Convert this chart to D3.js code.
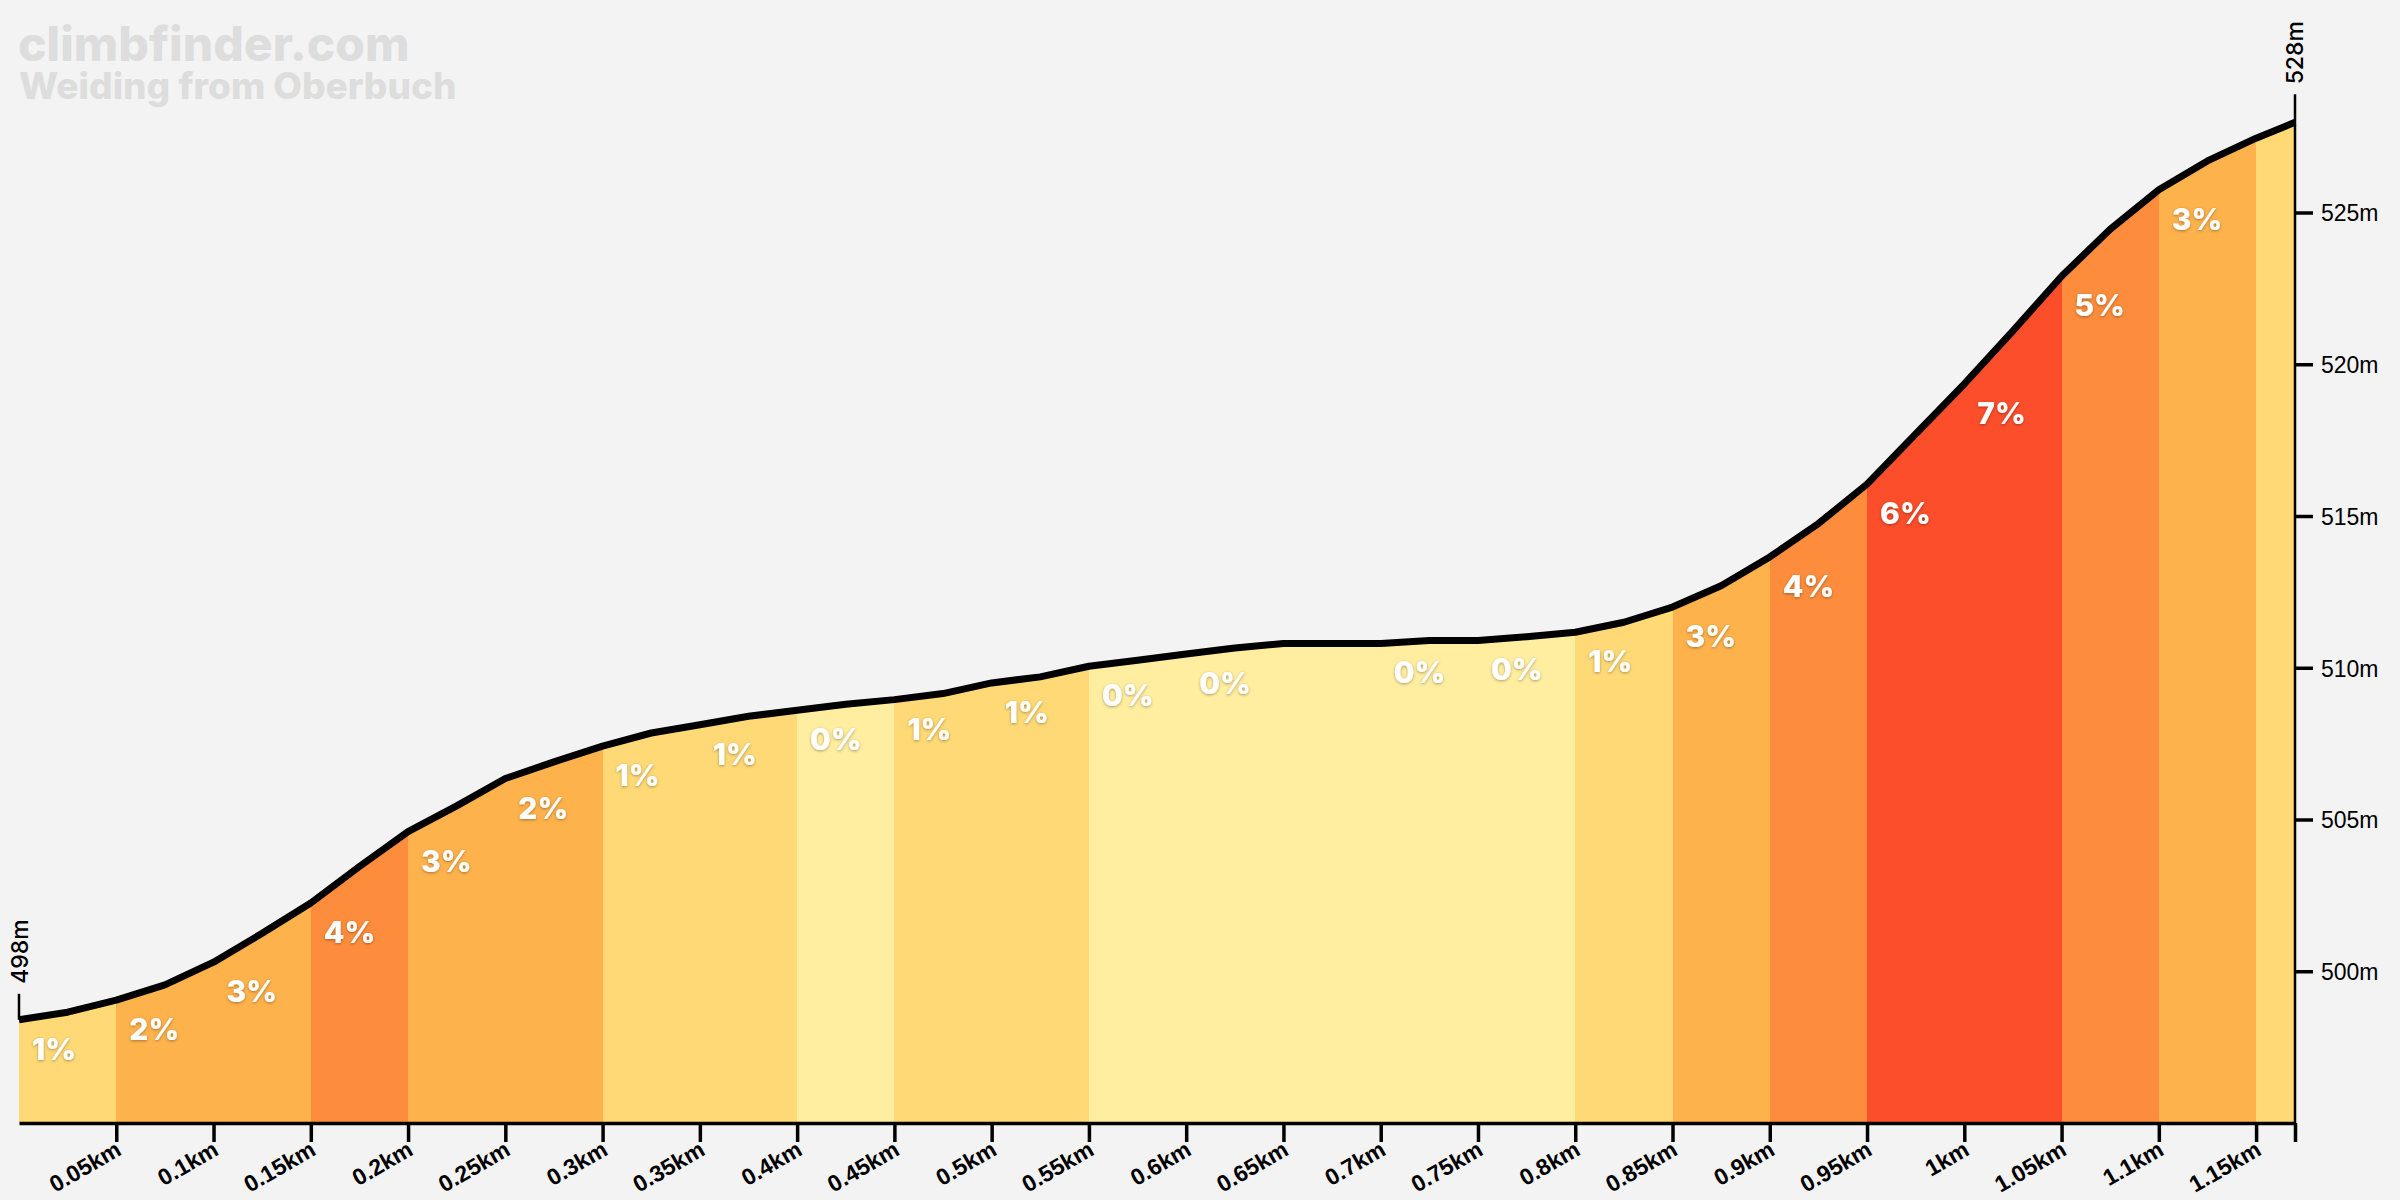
<!DOCTYPE html>
<html lang="en">
<head>
<meta charset="UTF-8">
<title>Weiding from Oberbuch</title>
<script src="https://d3js.org/d3.v7.min.js"></script>
<style>
    body {
        margin: 0;
        background: #f3f3f3;
    }

    svg {
        display: block;
        font-family: Inter, "Open Sans", sans-serif;
    }

    .title {
        fill: #dddddd;
        font-weight: 800;
    }

    .grade {
        fill: #ffffff;
        font-size: 30px;
        font-weight: 800;
    }

    .x-axis text {
        font-size: 23px;
        font-weight: 700;
        fill: #000;
    }

    .y-axis text, .marker {
        font-size: 23px;
        font-weight: 500;
        fill: #000;
    }
</style>
</head>
<body>
<div id="chart"></div>
<script>
// elevation profile
const distKm = [0, 0.025, 0.05, 0.075, 0.1, 0.125, 0.15, 0.175, 0.2, 0.225, 0.25, 0.275, 0.3, 0.325,
    0.35, 0.375, 0.4, 0.425, 0.45, 0.475, 0.5, 0.525, 0.55, 0.575, 0.6, 0.625, 0.65, 0.675, 0.7, 0.725,
    0.75, 0.775, 0.8, 0.825, 0.85, 0.875, 0.9, 0.925, 0.95, 0.975, 1.0, 1.025, 1.05, 1.075, 1.1, 1.125,
    1.15, 1.17];
const elevM = [498.4, 498.65, 499.05, 499.55, 500.3, 501.25, 502.25, 503.45, 504.6, 505.45, 506.35, 506.9,
    507.42, 507.85, 508.12, 508.4, 508.6, 508.8, 508.95, 509.15, 509.5, 509.7, 510.05, 510.25, 510.45,
    510.65, 510.8, 510.8, 510.8, 510.9, 510.9, 511.02, 511.17, 511.5, 512.0, 512.7, 513.65, 514.75,
    516.05, 517.7, 519.35, 521.1, 522.9, 524.45, 525.75, 526.7, 527.45, 527.97];

// 50 m segments with their gradient
const segStart = [0, 0.05, 0.1, 0.15, 0.2, 0.25, 0.3, 0.35, 0.4, 0.45, 0.5, 0.55, 0.6, 0.65, 0.7, 0.75,
    0.8, 0.85, 0.9, 0.95, 1.0, 1.05, 1.1, 1.15];
const segGrade = [1, 2, 3, 4, 3, 2, 1, 1, 0, 1, 1, 0, 0, 0, 0, 0, 1, 3, 4, 6, 7, 5, 3, 1];
const segLabel = ["1%", "2%", "3%", "4%", "3%", "2%", "1%", "1%", "0%", "1%", "1%", "0%", "0%", "",
    "0%", "0%", "1%", "3%", "4%", "6%", "7%", "5%", "3%", ""];

const xTickKm = [0.05, 0.1, 0.15, 0.2, 0.25, 0.3, 0.35, 0.4, 0.45, 0.5, 0.55, 0.6, 0.65, 0.7, 0.75, 0.8,
    0.85, 0.9, 0.95, 1.0, 1.05, 1.1, 1.15, 1.17];
const xTickLabel = ["0.05km", "0.1km", "0.15km", "0.2km", "0.25km", "0.3km", "0.35km", "0.4km", "0.45km",
    "0.5km", "0.55km", "0.6km", "0.65km", "0.7km", "0.75km", "0.8km", "0.85km", "0.9km", "0.95km", "1km",
    "1.05km", "1.1km", "1.15km", ""];
const yTickM = [500, 505, 510, 515, 520, 525];

const width = 2400, height = 1200;
const totalKm = distKm[distKm.length - 1];
const points = distKm.map((d, i) => ({ d: d, e: elevM[i] }));

const x = d3.scaleLinear().domain([0, totalKm]).range([19, 2295]);
const y = d3.scaleLinear().domain([495, 531]).range([1123, 30.4]);
const color = d3.scaleThreshold()
    .domain([1, 2, 4, 6, 8])
    .range(["#ffeda0", "#fed976", "#feb24c", "#fd8d3c", "#fc4e2a", "#e31a1c"]);

const svg = d3.select("#chart").append("svg")
    .attr("width", width)
    .attr("height", height);

svg.append("rect").attr("width", width).attr("height", height).attr("fill", "#f3f3f3");

const defs = svg.append("defs");
const area = d3.area().x(p => x(p.d)).y0(y(495)).y1(p => y(p.e));
defs.append("clipPath").attr("id", "under")
    .append("path").attr("d", area(points));
defs.append("filter").attr("id", "shadow")
    .attr("x", "-20%").attr("y", "-20%").attr("width", "140%").attr("height", "140%")
    .append("feDropShadow")
    .attr("dx", 0).attr("dy", 1)
    .attr("stdDeviation", 1.5)
    .attr("flood-color", "#000")
    .attr("flood-opacity", 0.35);

// title, two lines in one text block
const title = svg.append("text").attr("class", "title");
title.append("tspan")
    .attr("x", 18).attr("y", 61).style("font-size", "48px")
    .text("climbfinder.com");
title.append("tspan")
    .attr("x", 19).attr("y", 99).style("font-size", "37px")
    .text("Weiding from Oberbuch");

// coloured segments under the profile
const segs = segStart.map((s, i) => ({
    start: s,
    end: i < segStart.length - 1 ? segStart[i + 1] : totalKm,
    grade: segGrade[i],
    label: segLabel[i]
}));

svg.append("g").attr("clip-path", "url(#under)")
    .selectAll("rect")
    .data(segs)
    .join("rect")
    .attr("shape-rendering", "crispEdges")
    .attr("x", s => x(s.start))
    .attr("width", s => x(s.end) - x(s.start) + 0.6)
    .attr("y", 0)
    .attr("height", y(495))
    .attr("fill", s => color(s.grade));

// elevation at a given distance (for label placement)
const elevAt = d3.scaleLinear().domain(distKm).range(elevM);

svg.append("g")
    .selectAll("text")
    .data(segs.filter(s => s.label))
    .join("text")
    .attr("class", "grade")
    .attr("filter", "url(#shadow)")
    .attr("x", s => x(s.start) + 13)
    .attr("y", s => y(elevAt(s.start)) + 40)
    .text(s => s.label);

// x axis
const xAxis = svg.append("g")
    .attr("class", "x-axis")
    .attr("transform", `translate(0,${y(495)})`)
    .call(d3.axisBottom(x)
        .tickValues(xTickKm)
        .tickFormat((d, i) => xTickLabel[i])
        .tickSize(19)
        .tickSizeOuter(0));
xAxis.select(".domain").attr("stroke", "#000").attr("stroke-width", 3.5);
xAxis.selectAll(".tick line").attr("stroke", "#000").attr("stroke-width", 3.5);
xAxis.selectAll(".tick text")
    .attr("y", 0).attr("dy", 0).attr("x", 0)
    .attr("text-anchor", "end")
    .attr("transform", "translate(6,31) rotate(-30)");

// y axis on the right
const xEnd = x(totalKm);
const yAxis = svg.append("g")
    .attr("class", "y-axis")
    .attr("transform", `translate(${xEnd},0)`)
    .call(d3.axisRight(y)
        .tickValues(yTickM)
        .tickFormat(d => d + "m")
        .tickSize(18)
        .tickPadding(8));
yAxis.select(".domain").remove();
yAxis.selectAll(".tick line").attr("stroke", "#000").attr("stroke-width", 3.5);
yAxis.selectAll(".tick text").attr("dy", "0.36em");

const startE = elevM[0], endE = elevM[elevM.length - 1];
svg.append("line")
    .attr("x1", xEnd).attr("x2", xEnd)
    .attr("y1", y(495)).attr("y2", y(endE) - 28)
    .attr("stroke", "#000").attr("stroke-width", 2.5);
svg.append("line")
    .attr("x1", x(0)).attr("x2", x(0))
    .attr("y1", y(startE)).attr("y2", y(startE) - 26)
    .attr("stroke", "#000").attr("stroke-width", 2.5);

// start / finish height markers
svg.append("text").attr("class", "marker")
    .attr("transform", `translate(${x(0) + 9},${y(startE) - 36}) rotate(-90)`)
    .text(Math.round(startE) + "m");
svg.append("text").attr("class", "marker")
    .attr("transform", `translate(${xEnd + 8},${y(endE) - 38}) rotate(-90)`)
    .text(Math.round(endE) + "m");

// profile line
svg.append("path")
    .datum(points)
    .attr("fill", "none")
    .attr("stroke", "#000")
    .attr("stroke-width", 7)
    .attr("stroke-linejoin", "round")
    .attr("d", d3.line().x(p => x(p.d)).y(p => y(p.e)));
</script>
</body>
</html>
